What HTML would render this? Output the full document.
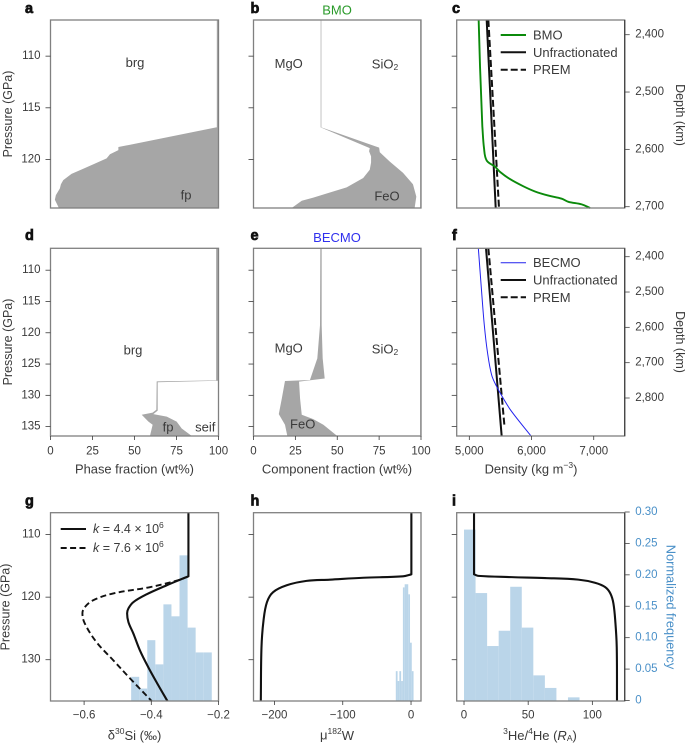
<!DOCTYPE html>
<html lang="en">
<head>
<meta charset="utf-8">
<title>Mantle phase and composition profiles</title>
<style>
html,body{margin:0;padding:0;background:#fff;width:685px;height:744px;overflow:hidden}
svg{display:block;font-family:"Liberation Sans",sans-serif}
</style>
</head>
<body>
<svg id="chart" width="685" height="744" viewBox="0 0 685 744" xmlns="http://www.w3.org/2000/svg"></svg>
<script>
// ---- panel a: BMO phase fractions
const aFpPressure = [116.9,118.8,119.1,119.5,119.9,120.4,120.9,121.4,122,122.4,122.8,123.45,123.9,124.7];
const aFpFraction = [98.6,40.4,40.4,35.4,33.4,26.4,19.5,12.5,7.6,6.2,5.6,3.2,2.6,5];
// ---- panel b: BMO component fractions
const bLeftPressure = [106.5,116.9,118.9,119.2,119.7,120.3,121,121.8,122.7,123.2,123.7,124.0,124.7];
const bLeftFraction = [40.1,40.1,69.4,69,70.2,70.2,69.4,65.5,55.6,45.6,35.7,28.8,22.8];
const bRightPressure = [106.5,116.9,118.85,119.3,120.2,121.3,122.4,123.6,124.7];
const bRightFraction = [40.5,40.5,75,75.4,81.3,89.3,95.2,97.2,96.2];
// ---- panel c: BMO densities
const cBmoPressure = [106.5,111,116.8,118.9,120.1,120.7,121.2,121.9,122.6,123.1,123.5,123.8,124.1,124.35,124.7];
const cBmoDensity = [5150,5172,5209,5236,5279,5413,5493,5654,5869,6056,6271,6485,6592,6807,6941];
const cUnfPressure = [106.5,124.7];
const cUnfDensity = [5279,5424];
const cPremPressure = [106.5,124.7];
const cPremDensity = [5306,5477];
const cDepthTicks = [2400,2500,2600,2700];
// ---- panel d: BECMO phase fractions
const dLeftPressure = [106.5,127.6,127.77,132.3,132.77,133.1,134.2,134.7,136.5];
const dLeftFraction = [98.6,98.6,63.2,63,60.8,54.3,58.3,60.8,59.2];
const dRightPressure = [106.5,127.66,127.9,132.45,133,133.4,134.2,135.3,136.5];
const dRightFraction = [100,100,63.8,63.8,61.2,69.2,75.1,78.1,84.1];
// ---- panel e: BECMO component fractions
const eLeftPressure = [106.5,118.8,124.1,127.55,127.7,130.5,133,134.7,136.5];
const eLeftFraction = [39.9,39.7,38.1,33.7,18.8,16.9,15.1,18.8,20.2];
const eRightPressure = [106.5,118.8,124.1,127.3,127.8,130.5,133.1,133.8,134.7,136.5];
const eRightFraction = [40.7,40.7,41.3,42.5,27.2,27.8,28.8,35.7,41.7,50];
// ---- panel f: BECMO densities
const fBecmoPressure = [106.5,113.5,118.8,123,126.75,128.6,130.5,132.6,136.5];
const fBecmoDensity = [5145,5198,5241,5290,5359,5440,5547,5681,5992];
const fUnfPressure = [106.5,136.5];
const fUnfDensity = [5268,5520];
const fPremPressure = [106.5,134.7];
const fPremDensity = [5306,5563];
const fDepthTicks = [2400,2500,2600,2700,2800];
// ---- panel g: silicon isotopes
const gBinStart = -0.46;
const gBinWidth = 0.024;
const gFrequency = [0.0377,0.019,0.096,0.0575,0.153,0.134,0.231,0.116,0.0765,0.0765];
const gSolidPressure = [106.5,116.67,117.2,118.1,119.55,120.8,121.8,122.6,124,125.8,128.5,131.2,134.1,136.6];
const gSolidDelta = [-0.2895,-0.2895,-0.314,-0.354,-0.414,-0.4535,-0.468,-0.472,-0.468,-0.4535,-0.434,-0.409,-0.379,-0.352];
const gDashedPressure = [116.67,117.2,118.4,119.4,120.5,121.6,122.6,124.2,127.2,130.1,133,136.6];
const gDashedDelta = [-0.2895,-0.314,-0.404,-0.513,-0.573,-0.598,-0.605,-0.598,-0.563,-0.513,-0.463,-0.399];
const gTicks = [-0.6,-0.4,-0.2];
// ---- panel h: tungsten isotopes
const hBinStart = -22.3;
const hBinWidth = 2.6;
const hFrequency = [0.0467,0.031,0.0467,0.031,0.18,0.185,0.185,0.169,0.092,0.0467];
const hCurvePressure = [106.5,116.35,116.67,116.9,117.2,117.4,118.1,119.2,120.8,123.7,128,136.6];
const hCurveMu = [0.5,0.5,-11.7,-70,-119,-153,-182,-202,-211,-216,-219,-220];
const hTicks = [-200,-100,0];
// ---- panel i: helium isotopes
const iBinStart = 0;
const iBinWidth = 9;
const iFrequency = [0.272,0.171,0.0867,0.111,0.181,0.116,0.04,0.02,0,0.005];
const iCurvePressure = [106.5,116.35,116.6,116.8,116.95,117.2,117.7,118.4,119.4,121,124.2,128,136.6];
const iCurveRatio = [7.8,7.8,11.2,37.1,63.1,89,102,110,114,116.4,118,119,119.2];
const iTicks = [0,50,100];
const iFreqTicks = [0,0.05,0.1,0.15,0.2,0.25,0.3];
const iFreqLabels = ['0','0.05','0.10','0.15','0.20','0.25','0.30'];
// ---- shared ticks
const pressureTicksTop = [110,115,120];
const pressureTicksMid = [110,115,120,125,130,135];
const pressureTicksLow = [110,120,130];
const fractionTicks = [0,25,50,75,100];
const densityTicks = [5000,6000,7000];

const NS = 'http://www.w3.org/2000/svg';
const root = document.getElementById('chart');
const GRAY = '#a6a6a6', FRAME = '#808080', INK = '#3a3a3a', HIST = '#bad5e9', SKY = '#4a90c8';
const scale = (d0,d1,r0,r1) => v => r0 + (v-d0)*(r1-r0)/(d1-d0);
function el(tag, attrs){
  const e = document.createElementNS(NS, tag);
  for (const k in attrs) e.setAttribute(k, attrs[k]);
  root.appendChild(e);
  return e;
}
function txt(x, y, s, size, opts){
  const e = el('text', Object.assign({x:x, y:y, 'font-size':size, fill:INK, 'text-anchor':'middle', 'dominant-baseline':'central'}, opts||{}));
  e.innerHTML = s;
  return e;
}
function linePath(xs, ys){
  return xs.map((v,i)=>(i?'L':'M')+v.toFixed(2)+' '+ys[i].toFixed(2)).join(' ');
}
// Straight through the first `start` vertices, then a smooth spline through the rest.
function smoothPath(xs, ys, start){
  let d = 'M'+xs[0].toFixed(2)+' '+ys[0].toFixed(2);
  const n = xs.length;
  const tangent = (i, lo) => {
    const a = Math.max(i-1, lo), b = Math.min(i+1, n-1);
    const dx = xs[b]-xs[a], dy = ys[b]-ys[a], m = Math.hypot(dx,dy)||1;
    return [dx/m, dy/m];
  };
  for (let i=1;i<n;i++){
    if (i<=start){ d += ' L'+xs[i].toFixed(2)+' '+ys[i].toFixed(2); continue; }
    const len = Math.hypot(xs[i]-xs[i-1], ys[i]-ys[i-1])*0.36;
    const t0 = tangent(i-1, start), t1 = tangent(i, start);
    d += ' C'+(xs[i-1]+t0[0]*len).toFixed(2)+' '+(ys[i-1]+t0[1]*len).toFixed(2)+' '+
         (xs[i]-t1[0]*len).toFixed(2)+' '+(ys[i]-t1[1]*len).toFixed(2)+' '+
         xs[i].toFixed(2)+' '+ys[i].toFixed(2);
  }
  return d;
}
function curve(xVals, pVals, xs, ys, stroke, width, dash, smoothStart){
  const px = xVals.map(xs), py = pVals.map(ys);
  const d = smoothStart===undefined ? linePath(px, py) : smoothPath(px, py, smoothStart);
  const a = {d:d, fill:'none', stroke:stroke, 'stroke-width':width, 'stroke-linejoin':'round'};
  if (dash) a['stroke-dasharray'] = dash;
  return el('path', a);
}
function area(x1, p1, x2, p2, xs, ys){
  const d = linePath(x1.map(xs).concat(x2.map(xs).reverse()), p1.map(ys).concat(p2.map(ys).reverse())) + ' Z';
  return el('path', {d:d, fill:GRAY});
}
function frameRect(c, r){
  return el('rect', {x:c[0], y:r.top, width:c[1]-c[0], height:r.bottom-r.top, fill:'none', stroke:FRAME, 'stroke-width':1.3});
}
function leftTicks(c, r, ticks, ys, showLabels, name){
  ticks.forEach(t=>{
    const k = el('line', {x1:c[0]-5, x2:c[0], y1:ys(t), y2:ys(t), stroke:INK, 'stroke-width':0.8});
    
    
    if (showLabels){
      const l = txt(c[0]-10, ys(t), String(t), 11.5, {'text-anchor':'end'});
      
      
    }
  });
}
function bottomTicks(c, r, ticks, xs, labels, labelY, name){
  ticks.forEach((t,i)=>{
    const k = el('line', {x1:xs(t), x2:xs(t), y1:r.bottom, y2:r.bottom+4, stroke:INK, 'stroke-width':0.8});
    
    
    const l = txt(xs(t), labelY, labels[i], 11.5);
    
    
  });
}
function rightAxis(c, r, ticks, ys, labels, color, name){
  const ax = el('line', {x1:c[1], x2:c[1], y1:r.top, y2:r.bottom, stroke:'#444', 'stroke-width':1.3});
  
  
  ticks.forEach((t,i)=>{
    const k = el('line', {x1:c[1], x2:c[1]+5, y1:ys(t), y2:ys(t), stroke:'#444', 'stroke-width':0.8});
    
    
    const l = txt(c[1]+10.5, ys(t), labels[i], 11.5, {'text-anchor':'start', fill:color});
    
    
  });
}
function histogram(start, width, freqs, xs, yf, name){
  freqs.forEach((f,i)=>{
    if (f<=0) return;
    const x0 = xs(start+i*width), x1 = xs(start+(i+1)*width);
    const b = el('rect', {x:x0, y:yf(f), width:x1-x0, height:yf(0)-yf(f), fill:HIST});
    
    
  });
}
function letter(x, y, s){
  const e = txt(x, y, s, 14.5, {'text-anchor':'start', 'dominant-baseline':'auto', 'font-weight':'bold', fill:'#111', stroke:'#111', 'stroke-width':0.7});
  
  
}
function rotated(x, y, s, angle, size, color, name){
  const e = txt(x, y, s, size, {transform:'rotate('+angle+' '+x+' '+y+')', fill:color});
  
  
}
function label(x, y, s, name, opts){
  const e = txt(x, y, s, 13, opts);
  
  
}
function legendEntry(x0, x1, y, stroke, width, dash, s, name, size){
  const a = {x1:x0, x2:x1, y1:y, y2:y, stroke:stroke, 'stroke-width':width};
  if (dash) a['stroke-dasharray'] = dash;
  const ln = el('line', a);
  
  
  const t = txt(x1+7, y, s, size||13, {'text-anchor':'start'});
  
  
}

// geometry
const colL = [50.5,218.5], colM = [253.5,421], colR = [456.7,624.7];
const rowA = {top:20, bottom:208}, rowD = {top:248.3, bottom:436}, rowG = {top:512.7, bottom:701};
const yA = scale(106.5,124.7,rowA.top,rowA.bottom);
const yD = scale(106.5,136.5,rowD.top,rowD.bottom);
const yG = scale(106.5,136.6,rowG.top,rowG.bottom);
const xFracL = scale(0,100,colL[0],colL[1]);
const xFracM = scale(0,100,colM[0],colM[1]);
const xDensity = scale(4797,7498,colR[0],colR[1]);
const xDelta = scale(-0.7,-0.2,colL[0],colL[1]);
const xMu = scale(-230.7,14.6,colM[0],colM[1]);
const xRatio = scale(-5.7,125.2,colR[0],colR[1]);
const yFreq = scale(0,0.3,700.5,512);
const depthC = scale(2400,2700,34.7,206.7);
const depthF = scale(2400,2800,256.7,398);
const fmt = t => t.toLocaleString('en-US');
const signed = t => t<0 ? '\u2212'+Math.abs(t) : String(t);
const PREM_DASH = '7 3';

// panel a
const aFill = area(aFpFraction, aFpPressure, aFpPressure.map(()=>100), aFpPressure, xFracL, yA);


const aStrip = area([99,99], [106.5,124.7], [100,100], [106.5,124.7], xFracL, yA);


const aBlue = curve([100,100], [106.5,124.7], xFracL, yA, '#6a6aa0', 1);


const aFrame = frameRect(colL, rowA);


leftTicks(colL, rowA, pressureTicksTop, yA, true, 'a');
letter(25, 13, 'a');
rotated(8, 114, 'Pressure (GPa)', -90, 12.5, INK, 'a-y-axis-title');
label(135, 62.7, 'brg', 'a-brg-label');
label(186, 195, 'fp', 'a-fp-label');

// panel b
const bFill = area(bLeftFraction, bLeftPressure, bRightFraction, bRightPressure, xFracM, yA);


const bEdge = curve([99.7,99.7], [106.5,124.7], xFracM, yA, '#c4c4c4', 1);


const bFrame = frameRect(colM, rowA);


leftTicks(colM, rowA, pressureTicksTop, yA, false, 'b');
letter(250.5, 13, 'b');
label(337, 10, 'BMO', 'b-title-bmo', {fill:'#2a9a2a'});
label(288.7, 63.7, 'MgO', 'b-mgo-label');
label(385, 64, 'SiO<tspan font-size="8.5" dy="3">2</tspan>', 'b-sio2-label');
label(387, 196, 'FeO', 'b-feo-label');

// panel c
const cPrem = curve(cPremDensity, cPremPressure, xDensity, yA, '#111', 2, PREM_DASH);


const cUnf = curve(cUnfDensity, cUnfPressure, xDensity, yA, '#111', 2);


const cBmo = curve(cBmoDensity, cBmoPressure, xDensity, yA, '#0b8a0b', 1.9, null, 2);


const cFrame = frameRect(colR, rowA);


leftTicks(colR, rowA, pressureTicksTop, yA, false, 'c');
rightAxis(colR, rowA, cDepthTicks, depthC, cDepthTicks.map(fmt), INK, 'c');
letter(452, 13, 'c');
legendEntry(500.7, 526, 35, '#0b8a0b', 1.9, null, 'BMO', 'c-bmo');
legendEntry(500.7, 526, 52.3, '#111', 2, null, 'Unfractionated', 'c-unfractionated');
legendEntry(500.7, 526, 69.7, '#111', 2, PREM_DASH, 'PREM', 'c-prem');
rotated(680, 115, 'Depth (km)', 90, 12.5, INK, 'c-depth-axis-title');

// panel d
const dFill = area(dLeftFraction, dLeftPressure, dRightFraction, dRightPressure, xFracL, yD);


const dFrame = frameRect(colL, rowD);


leftTicks(colL, rowD, pressureTicksMid, yD, true, 'd');
bottomTicks(colL, rowD, fractionTicks, xFracL, fractionTicks.map(String), 451.5, 'd');
letter(25, 240, 'd');
rotated(8, 342, 'Pressure (GPa)', -90, 12.5, INK, 'd-y-axis-title');
label(133, 350, 'brg', 'd-brg-label');
label(168, 427, 'fp', 'd-fp-label');
label(205.3, 427, 'seif', 'd-seif-label');
label(134.5, 469, 'Phase fraction (wt%)', 'd-x-axis-title', {'font-size':12.9});

// panel e
const eFill = area(eLeftFraction, eLeftPressure, eRightFraction, eRightPressure, xFracM, yD);


const eEdge = curve([99.7,99.7], [106.5,136.5], xFracM, yD, '#c4c4c4', 1);


const eFrame = frameRect(colM, rowD);


leftTicks(colM, rowD, pressureTicksMid, yD, false, 'e');
bottomTicks(colM, rowD, fractionTicks, xFracM, fractionTicks.map(String), 451.5, 'e');
letter(250.5, 240, 'e');
label(337, 237.7, 'BECMO', 'e-title-becmo', {fill:'#3030ee'});
label(288.7, 348, 'MgO', 'e-mgo-label');
label(385, 349, 'SiO<tspan font-size="8.5" dy="3">2</tspan>', 'e-sio2-label');
label(302.7, 424, 'FeO', 'e-feo-label');
label(337, 469, 'Component fraction (wt%)', 'e-x-axis-title', {'font-size':13});

// panel f
const fPrem = curve(fPremDensity, fPremPressure, xDensity, yD, '#111', 2, PREM_DASH);


const fUnf = curve(fUnfDensity, fUnfPressure, xDensity, yD, '#111', 2);


const fBecmo = curve(fBecmoDensity, fBecmoPressure, xDensity, yD, '#2222ee', 1, null, 0);


const fFrame = frameRect(colR, rowD);


leftTicks(colR, rowD, pressureTicksMid, yD, false, 'f');
bottomTicks(colR, rowD, densityTicks, xDensity, densityTicks.map(fmt), 451.5, 'f');
rightAxis(colR, rowD, fDepthTicks, depthF, fDepthTicks.map(fmt), INK, 'f');
letter(452, 240, 'f');
legendEntry(500.7, 526, 262.7, '#2222ee', 1, null, 'BECMO', 'f-becmo');
legendEntry(500.7, 526, 280, '#111', 2, null, 'Unfractionated', 'f-unfractionated');
legendEntry(500.7, 526, 297.3, '#111', 2, PREM_DASH, 'PREM', 'f-prem');
rotated(680, 342, 'Depth (km)', 90, 12.5, INK, 'f-depth-axis-title');
label(531, 469, 'Density (kg m<tspan font-size="8.5" dy="-4">\u22123</tspan><tspan dy="4">)</tspan>', 'f-x-axis-title', {'font-size':12.9});

// panel g
histogram(gBinStart, gBinWidth, gFrequency, xDelta, yFreq, 'g');
const gDash = curve(gDashedDelta, gDashedPressure, xDelta, yG, '#111', 1.9, '6 3.4', 0);


const gSolid = curve(gSolidDelta, gSolidPressure, xDelta, yG, '#111', 2.1, null, 1);


const gFrame = frameRect(colL, rowG);


leftTicks(colL, rowG, pressureTicksLow, yG, true, 'g');
bottomTicks(colL, rowG, gTicks, xDelta, gTicks.map(t=>'\u2212'+Math.abs(t).toFixed(1)), 715.7, 'g');
letter(25, 505.5, 'g');
rotated(5.5, 607, 'Pressure (GPa)', -90, 12.5, INK, 'g-y-axis-title');
legendEntry(60.7, 86, 529, '#111', 2.1, null, '<tspan font-style="italic">k</tspan> = 4.4 × 10<tspan font-size="8.5" dy="-4">6</tspan>', 'g-k-4-4', 12.5);
legendEntry(60.7, 86, 548, '#111', 1.9, '6 3.4', '<tspan font-style="italic">k</tspan> = 7.6 × 10<tspan font-size="8.5" dy="-4">6</tspan>', 'g-k-7-6', 12.5);
label(134.5, 735, 'δ<tspan font-size="8.5" dy="-4">30</tspan><tspan dy="4">Si (‰)</tspan>', 'g-x-axis-title', {'font-size':13});

// panel h
histogram(hBinStart, hBinWidth, hFrequency, xMu, yFreq, 'h');
const hCurve = curve(hCurveMu, hCurvePressure, xMu, yG, '#111', 2.1, null, 1);


const hFrame = frameRect(colM, rowG);


leftTicks(colM, rowG, pressureTicksLow, yG, false, 'h');
bottomTicks(colM, rowG, hTicks, xMu, hTicks.map(signed), 715.7, 'h');
letter(250.5, 505.5, 'h');
label(337, 735, 'μ<tspan font-size="8.5" dy="-4">182</tspan><tspan dy="4">W</tspan>', 'h-x-axis-title', {'font-size':13});

// panel i
histogram(iBinStart, iBinWidth, iFrequency, xRatio, yFreq, 'i');
const iCurve = curve(iCurveRatio, iCurvePressure, xRatio, yG, '#111', 2.1, null, 1);


const iFrame = frameRect(colR, rowG);


leftTicks(colR, rowG, pressureTicksLow, yG, false, 'i');
bottomTicks(colR, rowG, iTicks, xRatio, iTicks.map(String), 715.7, 'i');
rightAxis(colR, rowG, iFreqTicks, yFreq, iFreqLabels, SKY, 'i');
letter(452, 505.5, 'i');
rotated(671, 607, 'Normalized frequency', 90, 12.8, SKY, 'i-frequency-axis-title');
label(540, 735, '<tspan font-size="8.5" dy="-4">3</tspan><tspan dy="4">He/</tspan><tspan font-size="8.5" dy="-4">4</tspan><tspan dy="4">He (</tspan><tspan font-style="italic">R</tspan><tspan font-size="8.5" dy="3">A</tspan><tspan dy="-3">)</tspan>', 'i-x-axis-title', {'font-size':13});
</script>
</body>
</html>
